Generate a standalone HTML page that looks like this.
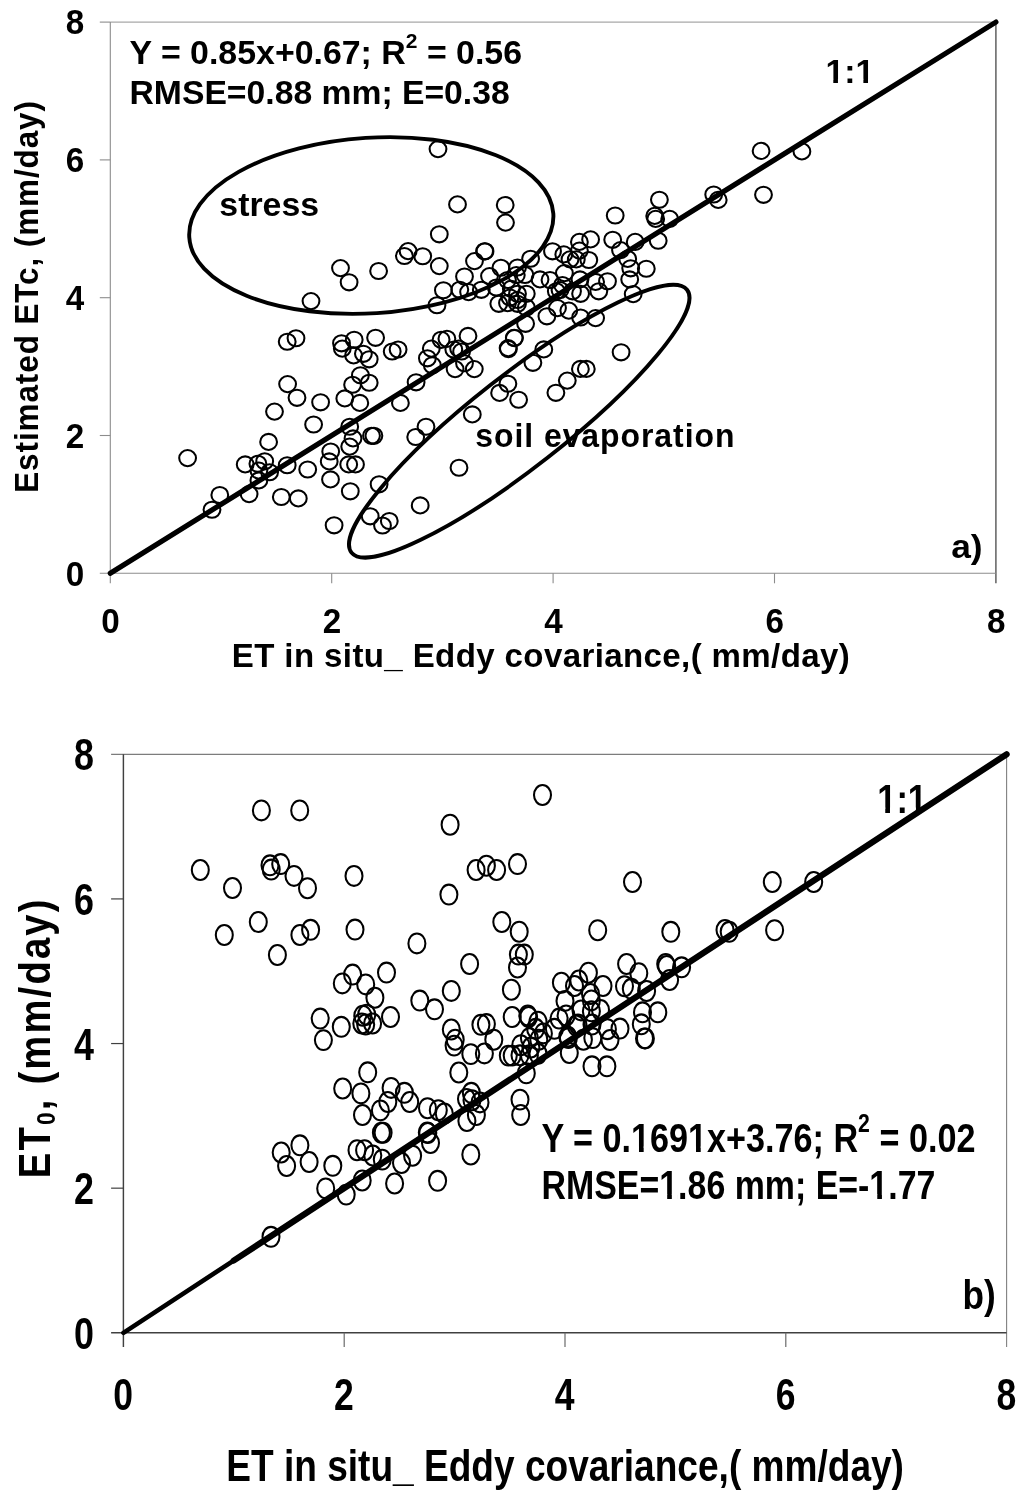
<!DOCTYPE html>
<html lang="en"><head><meta charset="utf-8"><title>ET scatter plots</title>
<style>
html,body{margin:0;padding:0;background:#fff;}
svg{display:block;}
text{font-family:'Liberation Sans', Arial, Helvetica, sans-serif;font-weight:bold;fill:#000;}
.pa ellipse{fill:none;stroke:#000;stroke-width:2.05;}
.pb ellipse{fill:none;stroke:#000;stroke-width:2.05;}
</style></head><body>
<svg width="1024" height="1503" viewBox="0 0 1024 1503">
<rect x="0" y="0" width="1024" height="1503" fill="#fff"/>
<g fill="none" stroke-linecap="butt">
<line x1="110.3" y1="22.1" x2="995.9" y2="22.1" stroke="#a8a8a8" stroke-width="1.1"/>
<line x1="995.9" y1="22.1" x2="995.9" y2="583.3" stroke="#606060" stroke-width="1.5"/>
<line x1="110.3" y1="22.1" x2="110.3" y2="583.3" stroke="#8c8c8c" stroke-width="1.1"/>
<line x1="99.8" y1="573.3" x2="995.9" y2="573.3" stroke="#8c8c8c" stroke-width="1.1"/>
<line x1="99.8" y1="435.50" x2="110.3" y2="435.50" stroke="#8c8c8c" stroke-width="1.1"/>
<line x1="99.8" y1="297.70" x2="110.3" y2="297.70" stroke="#8c8c8c" stroke-width="1.1"/>
<line x1="99.8" y1="159.90" x2="110.3" y2="159.90" stroke="#8c8c8c" stroke-width="1.1"/>
<line x1="99.8" y1="22.10" x2="110.3" y2="22.10" stroke="#8c8c8c" stroke-width="1.1"/>
<line x1="331.70" y1="573.3" x2="331.70" y2="583.3" stroke="#8c8c8c" stroke-width="1.1"/>
<line x1="553.10" y1="573.3" x2="553.10" y2="583.3" stroke="#8c8c8c" stroke-width="1.1"/>
<line x1="774.50" y1="573.3" x2="774.50" y2="583.3" stroke="#8c8c8c" stroke-width="1.1"/>
</g>
<ellipse cx="371.3" cy="225.5" rx="182.4" ry="87.8" transform="rotate(-3.7 371.3 225.5)" fill="none" stroke="#000" stroke-width="3.9"/>
<ellipse cx="519.25" cy="421.2" rx="213.1" ry="46.2" transform="rotate(-38.07 519.25 421.2)" fill="none" stroke="#000" stroke-width="3.9"/>
<g class="pa">
<ellipse cx="340.5" cy="268.1" rx="8.4" ry="8.05"/><ellipse cx="349.1" cy="282.3" rx="8.4" ry="8.05"/><ellipse cx="311.0" cy="301.1" rx="8.4" ry="8.05"/><ellipse cx="438.0" cy="149.1" rx="8.4" ry="8.05"/><ellipse cx="457.5" cy="204.4" rx="8.4" ry="8.05"/><ellipse cx="505.2" cy="205.0" rx="8.4" ry="8.05"/><ellipse cx="505.5" cy="222.6" rx="8.4" ry="8.05"/><ellipse cx="439.3" cy="234.3" rx="8.4" ry="8.05"/><ellipse cx="408.1" cy="251.1" rx="8.4" ry="8.05"/><ellipse cx="404.4" cy="256.0" rx="8.4" ry="8.05"/><ellipse cx="422.7" cy="256.2" rx="8.4" ry="8.05"/><ellipse cx="378.6" cy="271.0" rx="8.4" ry="8.05"/><ellipse cx="439.3" cy="266.1" rx="8.4" ry="8.05"/><ellipse cx="484.6" cy="251.3" rx="8.4" ry="8.05"/><ellipse cx="474.5" cy="261.1" rx="8.4" ry="8.05"/><ellipse cx="464.5" cy="276.5" rx="8.4" ry="8.05"/><ellipse cx="443.4" cy="290.2" rx="8.4" ry="8.05"/><ellipse cx="459.8" cy="289.8" rx="8.4" ry="8.05"/><ellipse cx="468.6" cy="292.1" rx="8.4" ry="8.05"/><ellipse cx="437.0" cy="305.2" rx="8.4" ry="8.05"/><ellipse cx="481.3" cy="289.8" rx="8.4" ry="8.05"/><ellipse cx="489.5" cy="276.1" rx="8.4" ry="8.05"/><ellipse cx="500.9" cy="267.7" rx="8.4" ry="8.05"/><ellipse cx="485.0" cy="251.3" rx="8.4" ry="8.05"/><ellipse cx="517.5" cy="267.5" rx="8.4" ry="8.05"/><ellipse cx="530.6" cy="258.8" rx="8.4" ry="8.05"/><ellipse cx="516.3" cy="275.0" rx="8.4" ry="8.05"/><ellipse cx="525.0" cy="275.0" rx="8.4" ry="8.05"/><ellipse cx="496.3" cy="287.5" rx="8.4" ry="8.05"/><ellipse cx="507.5" cy="280.0" rx="8.4" ry="8.05"/><ellipse cx="511.3" cy="288.8" rx="8.4" ry="8.05"/><ellipse cx="517.5" cy="293.8" rx="8.4" ry="8.05"/><ellipse cx="526.3" cy="293.8" rx="8.4" ry="8.05"/><ellipse cx="510.0" cy="297.5" rx="8.4" ry="8.05"/><ellipse cx="517.5" cy="300.0" rx="8.4" ry="8.05"/><ellipse cx="498.8" cy="303.8" rx="8.4" ry="8.05"/><ellipse cx="507.5" cy="303.1" rx="8.4" ry="8.05"/><ellipse cx="517.5" cy="303.8" rx="8.4" ry="8.05"/><ellipse cx="526.3" cy="307.5" rx="8.4" ry="8.05"/><ellipse cx="552.5" cy="251.3" rx="8.4" ry="8.05"/><ellipse cx="563.8" cy="254.4" rx="8.4" ry="8.05"/><ellipse cx="579.4" cy="241.9" rx="8.4" ry="8.05"/><ellipse cx="590.6" cy="239.4" rx="8.4" ry="8.05"/><ellipse cx="579.4" cy="250.6" rx="8.4" ry="8.05"/><ellipse cx="570.0" cy="259.4" rx="8.4" ry="8.05"/><ellipse cx="576.3" cy="259.4" rx="8.4" ry="8.05"/><ellipse cx="588.8" cy="260.0" rx="8.4" ry="8.05"/><ellipse cx="564.4" cy="273.1" rx="8.4" ry="8.05"/><ellipse cx="540.0" cy="279.4" rx="8.4" ry="8.05"/><ellipse cx="550.0" cy="280.0" rx="8.4" ry="8.05"/><ellipse cx="562.5" cy="285.0" rx="8.4" ry="8.05"/><ellipse cx="580.0" cy="279.4" rx="8.4" ry="8.05"/><ellipse cx="595.6" cy="281.9" rx="8.4" ry="8.05"/><ellipse cx="607.5" cy="281.3" rx="8.4" ry="8.05"/><ellipse cx="556.3" cy="291.3" rx="8.4" ry="8.05"/><ellipse cx="560.0" cy="290.0" rx="8.4" ry="8.05"/><ellipse cx="572.5" cy="291.3" rx="8.4" ry="8.05"/><ellipse cx="580.6" cy="293.8" rx="8.4" ry="8.05"/><ellipse cx="598.8" cy="291.3" rx="8.4" ry="8.05"/><ellipse cx="557.5" cy="308.1" rx="8.4" ry="8.05"/><ellipse cx="568.8" cy="310.6" rx="8.4" ry="8.05"/><ellipse cx="546.9" cy="316.3" rx="8.4" ry="8.05"/><ellipse cx="580.6" cy="317.5" rx="8.4" ry="8.05"/><ellipse cx="595.6" cy="318.1" rx="8.4" ry="8.05"/><ellipse cx="525.6" cy="323.8" rx="8.4" ry="8.05"/><ellipse cx="514.4" cy="338.1" rx="8.4" ry="8.05"/><ellipse cx="508.1" cy="348.1" rx="8.4" ry="8.05"/><ellipse cx="543.8" cy="349.4" rx="8.4" ry="8.05"/><ellipse cx="761.1" cy="150.9" rx="8.4" ry="8.05"/><ellipse cx="801.9" cy="151.4" rx="8.4" ry="8.05"/><ellipse cx="763.5" cy="194.8" rx="8.4" ry="8.05"/><ellipse cx="713.7" cy="194.5" rx="8.4" ry="8.05"/><ellipse cx="718.2" cy="199.9" rx="8.4" ry="8.05"/><ellipse cx="659.4" cy="199.7" rx="8.4" ry="8.05"/><ellipse cx="615.2" cy="215.5" rx="8.4" ry="8.05"/><ellipse cx="654.7" cy="215.9" rx="8.4" ry="8.05"/><ellipse cx="655.7" cy="218.9" rx="8.4" ry="8.05"/><ellipse cx="669.7" cy="218.9" rx="8.4" ry="8.05"/><ellipse cx="612.7" cy="239.8" rx="8.4" ry="8.05"/><ellipse cx="635.2" cy="241.9" rx="8.4" ry="8.05"/><ellipse cx="658.2" cy="240.7" rx="8.4" ry="8.05"/><ellipse cx="620.5" cy="250.1" rx="8.4" ry="8.05"/><ellipse cx="627.7" cy="258.9" rx="8.4" ry="8.05"/><ellipse cx="630.7" cy="268.3" rx="8.4" ry="8.05"/><ellipse cx="646.3" cy="268.7" rx="8.4" ry="8.05"/><ellipse cx="629.7" cy="279.4" rx="8.4" ry="8.05"/><ellipse cx="633.2" cy="294.1" rx="8.4" ry="8.05"/><ellipse cx="287.2" cy="341.7" rx="8.4" ry="8.05"/><ellipse cx="296.0" cy="338.2" rx="8.4" ry="8.05"/><ellipse cx="341.5" cy="343.3" rx="8.4" ry="8.05"/><ellipse cx="342.3" cy="348.6" rx="8.4" ry="8.05"/><ellipse cx="354.2" cy="339.8" rx="8.4" ry="8.05"/><ellipse cx="353.6" cy="355.4" rx="8.4" ry="8.05"/><ellipse cx="363.4" cy="353.8" rx="8.4" ry="8.05"/><ellipse cx="369.2" cy="359.3" rx="8.4" ry="8.05"/><ellipse cx="360.4" cy="375.3" rx="8.4" ry="8.05"/><ellipse cx="352.6" cy="384.7" rx="8.4" ry="8.05"/><ellipse cx="369.2" cy="382.7" rx="8.4" ry="8.05"/><ellipse cx="287.6" cy="384.1" rx="8.4" ry="8.05"/><ellipse cx="297.0" cy="397.8" rx="8.4" ry="8.05"/><ellipse cx="320.6" cy="402.3" rx="8.4" ry="8.05"/><ellipse cx="344.8" cy="398.4" rx="8.4" ry="8.05"/><ellipse cx="359.8" cy="402.9" rx="8.4" ry="8.05"/><ellipse cx="274.5" cy="411.6" rx="8.4" ry="8.05"/><ellipse cx="313.6" cy="424.5" rx="8.4" ry="8.05"/><ellipse cx="349.7" cy="426.7" rx="8.4" ry="8.05"/><ellipse cx="268.6" cy="441.9" rx="8.4" ry="8.05"/><ellipse cx="353.0" cy="438.4" rx="8.4" ry="8.05"/><ellipse cx="349.7" cy="446.6" rx="8.4" ry="8.05"/><ellipse cx="330.7" cy="451.5" rx="8.4" ry="8.05"/><ellipse cx="329.2" cy="461.4" rx="8.4" ry="8.05"/><ellipse cx="348.7" cy="464.4" rx="8.4" ry="8.05"/><ellipse cx="355.5" cy="464.4" rx="8.4" ry="8.05"/><ellipse cx="187.6" cy="458.1" rx="8.4" ry="8.05"/><ellipse cx="245.2" cy="464.4" rx="8.4" ry="8.05"/><ellipse cx="257.9" cy="463.8" rx="8.4" ry="8.05"/><ellipse cx="264.7" cy="461.3" rx="8.4" ry="8.05"/><ellipse cx="258.9" cy="470.6" rx="8.4" ry="8.05"/><ellipse cx="269.6" cy="472.2" rx="8.4" ry="8.05"/><ellipse cx="258.9" cy="480.4" rx="8.4" ry="8.05"/><ellipse cx="287.2" cy="465.2" rx="8.4" ry="8.05"/><ellipse cx="307.7" cy="469.5" rx="8.4" ry="8.05"/><ellipse cx="330.5" cy="479.4" rx="8.4" ry="8.05"/><ellipse cx="350.3" cy="491.3" rx="8.4" ry="8.05"/><ellipse cx="219.8" cy="495.0" rx="8.4" ry="8.05"/><ellipse cx="249.1" cy="494.1" rx="8.4" ry="8.05"/><ellipse cx="281.3" cy="497.0" rx="8.4" ry="8.05"/><ellipse cx="298.3" cy="498.4" rx="8.4" ry="8.05"/><ellipse cx="212.0" cy="509.7" rx="8.4" ry="8.05"/><ellipse cx="334.1" cy="525.3" rx="8.4" ry="8.05"/><ellipse cx="370.2" cy="516.3" rx="8.4" ry="8.05"/><ellipse cx="375.6" cy="337.8" rx="8.4" ry="8.05"/><ellipse cx="392.2" cy="351.5" rx="8.4" ry="8.05"/><ellipse cx="398.1" cy="349.5" rx="8.4" ry="8.05"/><ellipse cx="416.1" cy="382.3" rx="8.4" ry="8.05"/><ellipse cx="400.4" cy="402.9" rx="8.4" ry="8.05"/><ellipse cx="426.0" cy="426.7" rx="8.4" ry="8.05"/><ellipse cx="415.7" cy="437.0" rx="8.4" ry="8.05"/><ellipse cx="371.5" cy="435.8" rx="8.4" ry="8.05"/><ellipse cx="373.9" cy="435.8" rx="8.4" ry="8.05"/><ellipse cx="379.1" cy="484.3" rx="8.4" ry="8.05"/><ellipse cx="459.0" cy="467.7" rx="8.4" ry="8.05"/><ellipse cx="472.3" cy="414.4" rx="8.4" ry="8.05"/><ellipse cx="420.2" cy="505.4" rx="8.4" ry="8.05"/><ellipse cx="382.5" cy="525.5" rx="8.4" ry="8.05"/><ellipse cx="389.3" cy="521.0" rx="8.4" ry="8.05"/><ellipse cx="431.3" cy="348.6" rx="8.4" ry="8.05"/><ellipse cx="427.4" cy="358.3" rx="8.4" ry="8.05"/><ellipse cx="432.3" cy="365.2" rx="8.4" ry="8.05"/><ellipse cx="441.1" cy="339.8" rx="8.4" ry="8.05"/><ellipse cx="446.9" cy="338.8" rx="8.4" ry="8.05"/><ellipse cx="453.8" cy="349.5" rx="8.4" ry="8.05"/><ellipse cx="458.6" cy="348.6" rx="8.4" ry="8.05"/><ellipse cx="461.6" cy="351.5" rx="8.4" ry="8.05"/><ellipse cx="468.0" cy="335.9" rx="8.4" ry="8.05"/><ellipse cx="455.1" cy="369.1" rx="8.4" ry="8.05"/><ellipse cx="464.5" cy="363.2" rx="8.4" ry="8.05"/><ellipse cx="474.3" cy="369.1" rx="8.4" ry="8.05"/><ellipse cx="514.3" cy="337.8" rx="8.4" ry="8.05"/><ellipse cx="508.4" cy="349.1" rx="8.4" ry="8.05"/><ellipse cx="532.9" cy="362.8" rx="8.4" ry="8.05"/><ellipse cx="507.9" cy="383.7" rx="8.4" ry="8.05"/><ellipse cx="499.6" cy="392.9" rx="8.4" ry="8.05"/><ellipse cx="518.6" cy="399.7" rx="8.4" ry="8.05"/><ellipse cx="555.9" cy="392.8" rx="8.4" ry="8.05"/><ellipse cx="621.1" cy="352.3" rx="8.4" ry="8.05"/><ellipse cx="580.4" cy="368.9" rx="8.4" ry="8.05"/><ellipse cx="586.3" cy="368.9" rx="8.4" ry="8.05"/><ellipse cx="567.3" cy="380.6" rx="8.4" ry="8.05"/>
</g>
<line x1="110.3" y1="573.3" x2="995.9" y2="22.1" stroke="#000" stroke-width="5.2" stroke-linecap="round"/>
<text id="a_eq1" transform="translate(129.51,64.20) scale(1.0059,1)" font-size="33.7" text-anchor="start">Y = 0.85x+0.67; R<tspan dy="-16.5" font-size="20.9">2</tspan><tspan dy="16.5"> = </tspan>0.56</text>
<text id="a_eq2" transform="translate(129.53,104.10) scale(1.0002,1)" font-size="33.7" text-anchor="start">RMSE=0.88 mm; E=0.38</text>
<text id="a_stress" transform="translate(219.37,216.10) scale(1.0033,1)" font-size="33.7" text-anchor="start">stress</text>
<text id="a_soil" transform="translate(475.26,446.70) scale(0.9592,1)" font-size="33.3" letter-spacing="1.0" text-anchor="start">soil evaporation</text>
<text id="a_11" transform="translate(825.40,83.30) scale(1.0100,1)" font-size="33.5" text-anchor="start">1:1</text>
<g transform="translate(825.40,83.30) scale(1.0100,1)" fill="#fff"><rect x="1.04" y="-4.42" width="6.78" height="5.22"/><rect x="12.42" y="-4.42" width="6.08" height="5.22"/><rect x="30.82" y="-4.42" width="6.78" height="5.22"/><rect x="42.19" y="-4.42" width="6.08" height="5.22"/></g>
<text id="a_lab" transform="translate(951.24,557.50) scale(1.0700,1)" font-size="33.0" text-anchor="start">a)</text>
<text id="a_y0" transform="translate(75.00,585.65) scale(0.9500,1)" font-size="35" text-anchor="middle">0</text>
<text id="a_x0" transform="translate(110.60,632.90) scale(0.9500,1)" font-size="35" text-anchor="middle">0</text>
<text id="a_y2" transform="translate(75.00,447.85) scale(0.9500,1)" font-size="35" text-anchor="middle">2</text>
<text id="a_x2" transform="translate(332.00,632.90) scale(0.9500,1)" font-size="35" text-anchor="middle">2</text>
<text id="a_y4" transform="translate(75.00,310.05) scale(0.9500,1)" font-size="35" text-anchor="middle">4</text>
<text id="a_x4" transform="translate(553.40,632.90) scale(0.9500,1)" font-size="35" text-anchor="middle">4</text>
<text id="a_y6" transform="translate(75.00,172.25) scale(0.9500,1)" font-size="35" text-anchor="middle">6</text>
<text id="a_x6" transform="translate(774.80,632.90) scale(0.9500,1)" font-size="35" text-anchor="middle">6</text>
<text id="a_y8" transform="translate(75.00,34.45) scale(0.9500,1)" font-size="35" text-anchor="middle">8</text>
<text id="a_x8" transform="translate(996.20,632.90) scale(0.9500,1)" font-size="35" text-anchor="middle">8</text>
<text id="a_xl" transform="translate(231.80,667.10) scale(0.9935,1)" font-size="33.25" letter-spacing="0.4" text-anchor="start">ET in situ_ Eddy covariance,( mm/day)</text>
<text id="a_yl" transform="translate(38.20,492.76) rotate(-90) scale(0.9298,1)" font-size="33.8" letter-spacing="1.0" text-anchor="start">Estimated ETc, (mm/day)</text>
<g fill="none">
<line x1="111.10000000000001" y1="754.3" x2="1006.6" y2="754.3" stroke="#7c7c7c" stroke-width="1.15"/>
<line x1="1006.6" y1="754.3" x2="1006.6" y2="1347.0" stroke="#808080" stroke-width="1.1"/>
<line x1="123.4" y1="754.3" x2="123.4" y2="1347.0" stroke="#404040" stroke-width="1.45"/>
<line x1="111.10000000000001" y1="1332.8" x2="1006.6" y2="1332.8" stroke="#404040" stroke-width="1.45"/>
<line x1="111.10000000000001" y1="1188.17" x2="123.4" y2="1188.17" stroke="#404040" stroke-width="1.2"/>
<line x1="111.10000000000001" y1="1043.55" x2="123.4" y2="1043.55" stroke="#404040" stroke-width="1.2"/>
<line x1="111.10000000000001" y1="898.92" x2="123.4" y2="898.92" stroke="#404040" stroke-width="1.2"/>
<line x1="344.20" y1="1332.8" x2="344.20" y2="1347.0" stroke="#6a6a6a" stroke-width="1.2"/>
<line x1="565.00" y1="1332.8" x2="565.00" y2="1347.0" stroke="#6a6a6a" stroke-width="1.2"/>
<line x1="785.80" y1="1332.8" x2="785.80" y2="1347.0" stroke="#6a6a6a" stroke-width="1.2"/>
</g>
<g class="pb">
<ellipse cx="261.4" cy="810.4" rx="8.5" ry="9.95"/><ellipse cx="299.7" cy="810.4" rx="8.5" ry="9.95"/><ellipse cx="200.3" cy="870.0" rx="8.5" ry="9.95"/><ellipse cx="232.5" cy="888.0" rx="8.5" ry="9.95"/><ellipse cx="270.0" cy="865.3" rx="8.5" ry="9.95"/><ellipse cx="271.2" cy="869.6" rx="8.5" ry="9.95"/><ellipse cx="280.7" cy="864.1" rx="8.5" ry="9.95"/><ellipse cx="294.0" cy="875.9" rx="8.5" ry="9.95"/><ellipse cx="307.5" cy="888.2" rx="8.5" ry="9.95"/><ellipse cx="354.0" cy="875.9" rx="8.5" ry="9.95"/><ellipse cx="258.3" cy="922.0" rx="8.5" ry="9.95"/><ellipse cx="224.3" cy="935.0" rx="8.5" ry="9.95"/><ellipse cx="299.9" cy="935.0" rx="8.5" ry="9.95"/><ellipse cx="310.6" cy="929.8" rx="8.5" ry="9.95"/><ellipse cx="355.0" cy="929.6" rx="8.5" ry="9.95"/><ellipse cx="277.4" cy="955.0" rx="8.5" ry="9.95"/><ellipse cx="352.6" cy="974.6" rx="8.5" ry="9.95"/><ellipse cx="542.5" cy="795.0" rx="8.5" ry="9.95"/><ellipse cx="450.1" cy="824.7" rx="8.5" ry="9.95"/><ellipse cx="476.1" cy="870.0" rx="8.5" ry="9.95"/><ellipse cx="486.4" cy="865.7" rx="8.5" ry="9.95"/><ellipse cx="496.6" cy="870.0" rx="8.5" ry="9.95"/><ellipse cx="517.5" cy="864.1" rx="8.5" ry="9.95"/><ellipse cx="448.9" cy="894.6" rx="8.5" ry="9.95"/><ellipse cx="501.8" cy="922.0" rx="8.5" ry="9.95"/><ellipse cx="519.2" cy="931.7" rx="8.5" ry="9.95"/><ellipse cx="416.9" cy="943.4" rx="8.5" ry="9.95"/><ellipse cx="518.4" cy="954.6" rx="8.5" ry="9.95"/><ellipse cx="524.3" cy="954.6" rx="8.5" ry="9.95"/><ellipse cx="469.6" cy="964.0" rx="8.5" ry="9.95"/><ellipse cx="517.5" cy="967.5" rx="8.5" ry="9.95"/><ellipse cx="386.5" cy="972.6" rx="8.5" ry="9.95"/><ellipse cx="632.5" cy="882.0" rx="8.5" ry="9.95"/><ellipse cx="597.7" cy="930.2" rx="8.5" ry="9.95"/><ellipse cx="670.8" cy="931.8" rx="8.5" ry="9.95"/><ellipse cx="725.0" cy="930.0" rx="8.5" ry="9.95"/><ellipse cx="729.2" cy="931.8" rx="8.5" ry="9.95"/><ellipse cx="772.3" cy="882.0" rx="8.5" ry="9.95"/><ellipse cx="774.6" cy="930.2" rx="8.5" ry="9.95"/><ellipse cx="813.7" cy="882.0" rx="8.5" ry="9.95"/><ellipse cx="626.6" cy="964.0" rx="8.5" ry="9.95"/><ellipse cx="638.8" cy="973.2" rx="8.5" ry="9.95"/><ellipse cx="665.7" cy="964.0" rx="8.5" ry="9.95"/><ellipse cx="666.7" cy="966.0" rx="8.5" ry="9.95"/><ellipse cx="681.6" cy="967.3" rx="8.5" ry="9.95"/><ellipse cx="669.6" cy="980.0" rx="8.5" ry="9.95"/><ellipse cx="588.4" cy="972.7" rx="8.5" ry="9.95"/><ellipse cx="578.8" cy="980.5" rx="8.5" ry="9.95"/><ellipse cx="603.0" cy="986.0" rx="8.5" ry="9.95"/><ellipse cx="624.5" cy="986.2" rx="8.5" ry="9.95"/><ellipse cx="631.3" cy="988.8" rx="8.5" ry="9.95"/><ellipse cx="646.6" cy="991.0" rx="8.5" ry="9.95"/><ellipse cx="574.5" cy="986.0" rx="8.5" ry="9.95"/><ellipse cx="590.5" cy="994.0" rx="8.5" ry="9.95"/><ellipse cx="591.4" cy="1000.4" rx="8.5" ry="9.95"/><ellipse cx="642.5" cy="1012.3" rx="8.5" ry="9.95"/><ellipse cx="657.8" cy="1012.3" rx="8.5" ry="9.95"/><ellipse cx="581.0" cy="1010.4" rx="8.5" ry="9.95"/><ellipse cx="591.4" cy="1011.3" rx="8.5" ry="9.95"/><ellipse cx="600.5" cy="1010.0" rx="8.5" ry="9.95"/><ellipse cx="641.3" cy="1024.3" rx="8.5" ry="9.95"/><ellipse cx="620.0" cy="1028.6" rx="8.5" ry="9.95"/><ellipse cx="607.4" cy="1029.2" rx="8.5" ry="9.95"/><ellipse cx="644.5" cy="1038.4" rx="8.5" ry="9.95"/><ellipse cx="645.4" cy="1038.4" rx="8.5" ry="9.95"/><ellipse cx="578.0" cy="1024.5" rx="8.5" ry="9.95"/><ellipse cx="592.0" cy="1024.6" rx="8.5" ry="9.95"/><ellipse cx="610.0" cy="1040.0" rx="8.5" ry="9.95"/><ellipse cx="592.8" cy="1038.1" rx="8.5" ry="9.95"/><ellipse cx="583.4" cy="1039.7" rx="8.5" ry="9.95"/><ellipse cx="567.8" cy="1036.6" rx="8.5" ry="9.95"/><ellipse cx="569.3" cy="1053.0" rx="8.5" ry="9.95"/><ellipse cx="592.0" cy="1066.3" rx="8.5" ry="9.95"/><ellipse cx="606.9" cy="1066.3" rx="8.5" ry="9.95"/><ellipse cx="342.3" cy="983.4" rx="8.5" ry="9.95"/><ellipse cx="365.7" cy="984.4" rx="8.5" ry="9.95"/><ellipse cx="374.9" cy="997.7" rx="8.5" ry="9.95"/><ellipse cx="419.8" cy="1000.6" rx="8.5" ry="9.95"/><ellipse cx="434.5" cy="1009.3" rx="8.5" ry="9.95"/><ellipse cx="320.2" cy="1018.6" rx="8.5" ry="9.95"/><ellipse cx="341.3" cy="1026.8" rx="8.5" ry="9.95"/><ellipse cx="323.4" cy="1040.1" rx="8.5" ry="9.95"/><ellipse cx="390.5" cy="1017.0" rx="8.5" ry="9.95"/><ellipse cx="362.8" cy="1015.7" rx="8.5" ry="9.95"/><ellipse cx="366.7" cy="1014.7" rx="8.5" ry="9.95"/><ellipse cx="361.8" cy="1023.5" rx="8.5" ry="9.95"/><ellipse cx="365.7" cy="1024.5" rx="8.5" ry="9.95"/><ellipse cx="372.6" cy="1023.5" rx="8.5" ry="9.95"/><ellipse cx="367.7" cy="1072.3" rx="8.5" ry="9.95"/><ellipse cx="342.7" cy="1088.5" rx="8.5" ry="9.95"/><ellipse cx="360.9" cy="1093.4" rx="8.5" ry="9.95"/><ellipse cx="391.1" cy="1087.9" rx="8.5" ry="9.95"/><ellipse cx="404.4" cy="1092.8" rx="8.5" ry="9.95"/><ellipse cx="409.7" cy="1102.0" rx="8.5" ry="9.95"/><ellipse cx="387.8" cy="1102.0" rx="8.5" ry="9.95"/><ellipse cx="380.4" cy="1110.4" rx="8.5" ry="9.95"/><ellipse cx="362.5" cy="1115.0" rx="8.5" ry="9.95"/><ellipse cx="427.5" cy="1108.2" rx="8.5" ry="9.95"/><ellipse cx="381.4" cy="1132.7" rx="8.5" ry="9.95"/><ellipse cx="383.1" cy="1132.7" rx="8.5" ry="9.95"/><ellipse cx="427.3" cy="1132.5" rx="8.5" ry="9.95"/><ellipse cx="299.9" cy="1145.3" rx="8.5" ry="9.95"/><ellipse cx="281.2" cy="1152.5" rx="8.5" ry="9.95"/><ellipse cx="357.0" cy="1150.2" rx="8.5" ry="9.95"/><ellipse cx="364.6" cy="1150.2" rx="8.5" ry="9.95"/><ellipse cx="372.8" cy="1155.5" rx="8.5" ry="9.95"/><ellipse cx="412.6" cy="1155.7" rx="8.5" ry="9.95"/><ellipse cx="430.5" cy="1143.0" rx="8.5" ry="9.95"/><ellipse cx="309.1" cy="1162.0" rx="8.5" ry="9.95"/><ellipse cx="286.6" cy="1166.0" rx="8.5" ry="9.95"/><ellipse cx="332.8" cy="1165.8" rx="8.5" ry="9.95"/><ellipse cx="382.3" cy="1159.6" rx="8.5" ry="9.95"/><ellipse cx="401.5" cy="1163.0" rx="8.5" ry="9.95"/><ellipse cx="325.7" cy="1188.4" rx="8.5" ry="9.95"/><ellipse cx="346.2" cy="1194.6" rx="8.5" ry="9.95"/><ellipse cx="362.2" cy="1180.5" rx="8.5" ry="9.95"/><ellipse cx="394.6" cy="1183.5" rx="8.5" ry="9.95"/><ellipse cx="271.0" cy="1236.8" rx="8.5" ry="9.95"/><ellipse cx="437.6" cy="1180.8" rx="8.5" ry="9.95"/><ellipse cx="451.3" cy="990.9" rx="8.5" ry="9.95"/><ellipse cx="511.4" cy="989.7" rx="8.5" ry="9.95"/><ellipse cx="561.4" cy="982.7" rx="8.5" ry="9.95"/><ellipse cx="565.0" cy="1000.9" rx="8.5" ry="9.95"/><ellipse cx="512.2" cy="1017.0" rx="8.5" ry="9.95"/><ellipse cx="527.8" cy="1015.5" rx="8.5" ry="9.95"/><ellipse cx="528.6" cy="1017.0" rx="8.5" ry="9.95"/><ellipse cx="538.0" cy="1021.7" rx="8.5" ry="9.95"/><ellipse cx="559.1" cy="1018.6" rx="8.5" ry="9.95"/><ellipse cx="566.1" cy="1015.5" rx="8.5" ry="9.95"/><ellipse cx="451.3" cy="1029.5" rx="8.5" ry="9.95"/><ellipse cx="455.2" cy="1039.7" rx="8.5" ry="9.95"/><ellipse cx="454.1" cy="1045.6" rx="8.5" ry="9.95"/><ellipse cx="480.9" cy="1024.8" rx="8.5" ry="9.95"/><ellipse cx="486.4" cy="1024.1" rx="8.5" ry="9.95"/><ellipse cx="493.8" cy="1039.7" rx="8.5" ry="9.95"/><ellipse cx="470.8" cy="1054.1" rx="8.5" ry="9.95"/><ellipse cx="484.4" cy="1053.4" rx="8.5" ry="9.95"/><ellipse cx="508.3" cy="1055.6" rx="8.5" ry="9.95"/><ellipse cx="512.2" cy="1055.6" rx="8.5" ry="9.95"/><ellipse cx="520.0" cy="1055.3" rx="8.5" ry="9.95"/><ellipse cx="520.8" cy="1045.2" rx="8.5" ry="9.95"/><ellipse cx="529.4" cy="1038.1" rx="8.5" ry="9.95"/><ellipse cx="530.9" cy="1047.5" rx="8.5" ry="9.95"/><ellipse cx="538.8" cy="1039.7" rx="8.5" ry="9.95"/><ellipse cx="543.4" cy="1033.4" rx="8.5" ry="9.95"/><ellipse cx="535.6" cy="1028.8" rx="8.5" ry="9.95"/><ellipse cx="529.4" cy="1055.3" rx="8.5" ry="9.95"/><ellipse cx="538.0" cy="1053.8" rx="8.5" ry="9.95"/><ellipse cx="554.4" cy="1028.8" rx="8.5" ry="9.95"/><ellipse cx="568.4" cy="1038.1" rx="8.5" ry="9.95"/><ellipse cx="576.3" cy="1025.6" rx="8.5" ry="9.95"/><ellipse cx="458.8" cy="1072.5" rx="8.5" ry="9.95"/><ellipse cx="526.3" cy="1073.3" rx="8.5" ry="9.95"/><ellipse cx="471.3" cy="1092.8" rx="8.5" ry="9.95"/><ellipse cx="466.5" cy="1099.0" rx="8.5" ry="9.95"/><ellipse cx="472.0" cy="1100.2" rx="8.5" ry="9.95"/><ellipse cx="480.0" cy="1102.4" rx="8.5" ry="9.95"/><ellipse cx="520.0" cy="1099.6" rx="8.5" ry="9.95"/><ellipse cx="520.7" cy="1115.0" rx="8.5" ry="9.95"/><ellipse cx="438.3" cy="1110.2" rx="8.5" ry="9.95"/><ellipse cx="444.3" cy="1113.5" rx="8.5" ry="9.95"/><ellipse cx="476.4" cy="1115.0" rx="8.5" ry="9.95"/><ellipse cx="466.9" cy="1121.0" rx="8.5" ry="9.95"/><ellipse cx="427.8" cy="1133.0" rx="8.5" ry="9.95"/><ellipse cx="470.8" cy="1154.5" rx="8.5" ry="9.95"/>
</g>
<text id="b_11" transform="translate(877.20,812.60) scale(0.8670,1)" font-size="39.8" text-anchor="start">1:1</text>
<g transform="translate(877.20,812.60) scale(0.8670,1)" fill="#fff"><rect x="1.39" y="-5.06" width="7.90" height="5.86"/><rect x="14.75" y="-5.06" width="7.08" height="5.86"/><rect x="36.75" y="-5.06" width="7.90" height="5.86"/><rect x="50.11" y="-5.06" width="7.08" height="5.86"/></g>
<line x1="123.4" y1="1332.8" x2="1006.6" y2="754.3" stroke="#000" stroke-width="4.6" stroke-linecap="round"/>
<line x1="233.80" y1="1260.49" x2="1006.6" y2="754.3" stroke="#000" stroke-width="6.2" stroke-linecap="round"/>
<text id="b_eq1" transform="translate(541.38,1151.60) scale(0.8423,1)" font-size="40.6" text-anchor="start">Y = 0.1691x+3.76; R<tspan dy="-19.9" font-size="25.2">2</tspan><tspan dy="19.9"> = </tspan>0.02</text>
<g transform="translate(541.38,1151.60) scale(0.8423,1)" fill="#fff"><rect x="107.84" y="-5.14" width="8.04" height="5.94"/><rect x="121.45" y="-5.14" width="7.20" height="5.94"/><rect x="175.54" y="-5.14" width="8.04" height="5.94"/><rect x="189.16" y="-5.14" width="7.20" height="5.94"/></g>
<text id="b_eq2" transform="translate(541.52,1199.10) scale(0.8354,1)" font-size="40.6" text-anchor="start">RMSE=1.86 mm; E=-1.77</text>
<g transform="translate(541.52,1199.10) scale(0.8354,1)" fill="#fff"><rect x="142.37" y="-5.14" width="8.04" height="5.94"/><rect x="155.99" y="-5.14" width="7.20" height="5.94"/><rect x="393.86" y="-5.14" width="8.04" height="5.94"/><rect x="407.48" y="-5.14" width="7.20" height="5.94"/></g>
<text id="b_lab" transform="translate(962.60,1308.70) scale(0.8696,1)" font-size="40.5" text-anchor="start">b)</text>
<text id="b_y0" transform="translate(83.90,1348.90) scale(0.7970,1)" font-size="45.0" text-anchor="middle">0</text>
<text id="b_x0" transform="translate(123.10,1410.40) scale(0.8000,1)" font-size="44.4" text-anchor="middle">0</text>
<text id="b_y2" transform="translate(83.90,1204.27) scale(0.7970,1)" font-size="45.0" text-anchor="middle">2</text>
<text id="b_x2" transform="translate(343.90,1410.40) scale(0.8000,1)" font-size="44.4" text-anchor="middle">2</text>
<text id="b_y4" transform="translate(83.90,1059.65) scale(0.7970,1)" font-size="45.0" text-anchor="middle">4</text>
<text id="b_x4" transform="translate(564.70,1410.40) scale(0.8000,1)" font-size="44.4" text-anchor="middle">4</text>
<text id="b_y6" transform="translate(83.90,915.02) scale(0.7970,1)" font-size="45.0" text-anchor="middle">6</text>
<text id="b_x6" transform="translate(785.50,1410.40) scale(0.8000,1)" font-size="44.4" text-anchor="middle">6</text>
<text id="b_y8" transform="translate(83.90,770.40) scale(0.7970,1)" font-size="45.0" text-anchor="middle">8</text>
<text id="b_x8" transform="translate(1006.30,1410.40) scale(0.8000,1)" font-size="44.4" text-anchor="middle">8</text>
<text id="b_xl" transform="translate(226.24,1480.50) scale(0.8484,1)" font-size="43.7" text-anchor="start">ET in situ_ Eddy covariance,( mm/day)</text>
<text id="b_yl" transform="translate(50.40,1178.20) rotate(-90) scale(0.8726,1)" font-size="43.8" letter-spacing="2.5" text-anchor="start">ET<tspan dy="5" font-size="26">0</tspan><tspan dy="-5">, (mm/day)</tspan></text>
</svg>
</body></html>
